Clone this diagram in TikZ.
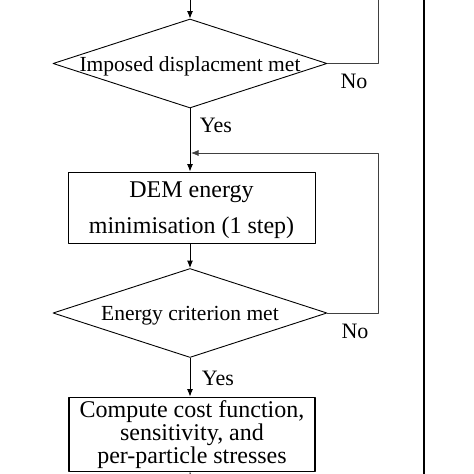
\documentclass[tikz,border=0pt]{standalone}
\usepackage{fontspec}
\setmainfont{Liberation Serif}
\usetikzlibrary{shapes.geometric,arrows.meta}

\tikzset{
  flow/.style={line width=0.9pt,-{Latex[length=7.5pt,width=6pt]}},
  loopline/.style={line width=0.75pt,draw=black!75},
  decision/.style={diamond,draw,line width=0.9pt,inner sep=0pt,
    text height=15pt,text depth=0pt,
    minimum width=274pt,minimum height=89pt,font=\fontsize{21.5}{24}\selectfont},
  process/.style={rectangle,draw,line width=0.9pt,
    minimum width=247pt,minimum height=71pt},
  answer/.style={font=\fontsize{22}{24}\selectfont}
}

\begin{document}
\begin{tikzpicture}[line join=round,x=1pt,y=-1pt]
  \useasboundingbox (0,0) rectangle (474,474);
  \clip (0,0) rectangle (474,474);
  % nodes
  \node[decision] (disp) at (190,63.5) {\makebox[0pt]{Imposed displacment met}};
  \node[process,font=\fontsize{24}{36}\selectfont] (dem) at (191.5,207.5)
    {\raisebox{-7.3pt}[0pt][0pt]{\begin{tabular}{@{}c@{}}DEM energy\\minimisation (1 step)\end{tabular}}};
  \node[decision] (energy) at (190,313) {\makebox[0pt]{Energy criterion met}};
  \node[process,align=center,line width=1.6pt,minimum width=246pt,minimum height=73pt,
    font=\fontsize{24}{21.5}\selectfont] (cost) at (192,434.5)
    {Compute cost function,\\sensitivity, and\\per-particle stresses};
  \node[answer] (no1) at (354,81) {No};
  \node[answer] (yes1) at (216,125) {Yes};
  \node[answer] (no2) at (355,331) {No};
  \node[answer] (yes2) at (218,378) {Yes};
  \coordinate (topin) at (190,-10);
  \coordinate (botout) at (192,490);
  \coordinate (loopup) at (378,-10);
  \coordinate (merge) at (191,153);
  \coordinate (railtop) at (424,-10);
  \coordinate (railbot) at (424,490);
  % connectors
  \draw[flow] (topin) -- (disp.north);
  \draw[flow] (disp.south) -- (dem.north -| disp.south);
  \draw[flow] (dem.south -| disp.south) -- (energy.north);
  \draw[flow] (energy.south) -- (cost.north -| energy.south);
  \draw[line width=0.9pt] (cost.south -| energy.south) -- (botout);
  \draw[loopline] (disp.east) -| (loopup);
  \draw[loopline,-{Latex[length=7.5pt,width=6pt]}] (energy.east) -- ++(51,0) |- (merge);
  \draw[line width=1.3pt] (railtop) -- (railbot);
\end{tikzpicture}
\end{document}
